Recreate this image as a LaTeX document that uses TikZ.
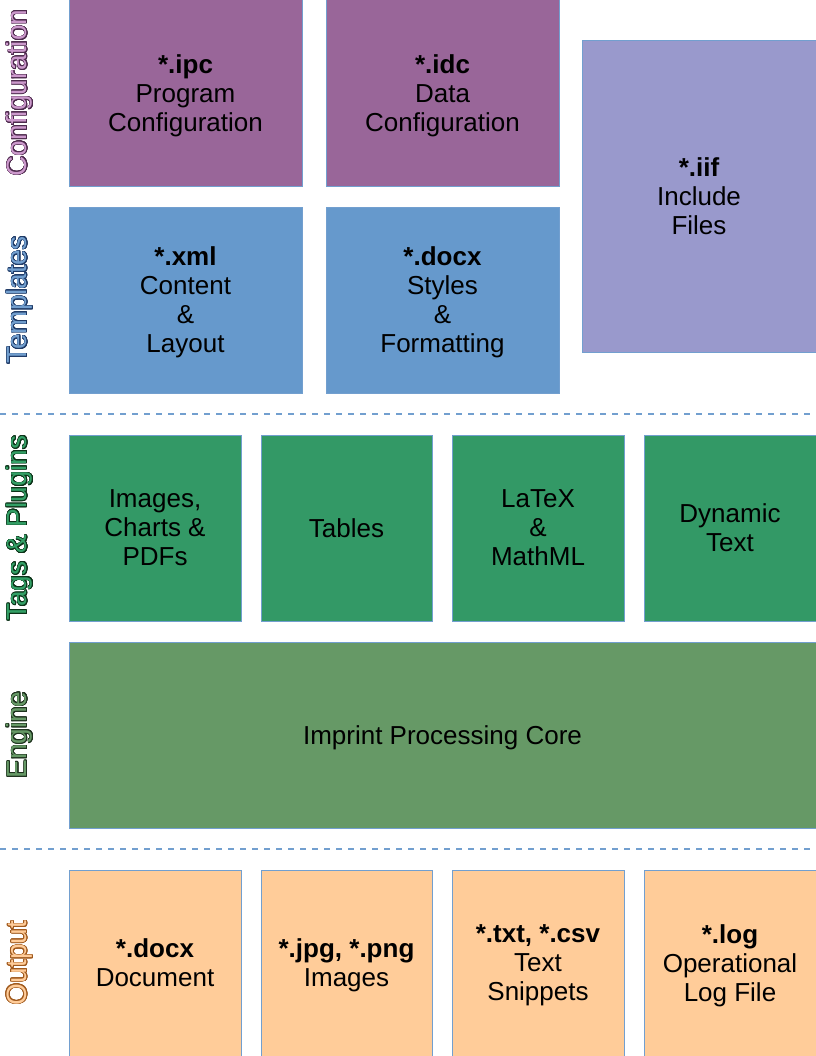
\documentclass[tikz,border=0pt]{standalone}
\usepackage{fontspec}
\setmainfont{Liberation Sans}
\usepackage{contour}
\contourlength{0.5pt}
\contournumber{24}
\definecolor{cfg}{HTML}{996699}
\definecolor{tpl}{HTML}{6699CC}
\definecolor{inc}{HTML}{9999CC}
\definecolor{tag}{HTML}{339966}
\definecolor{eng}{HTML}{669966}
\definecolor{out}{HTML}{FFCC99}
\definecolor{edge}{HTML}{729FCF}
\definecolor{cfgL}{HTML}{CC99CC}\definecolor{cfgD}{HTML}{4D2A4D}
\definecolor{tplL}{HTML}{729FCF}\definecolor{tplD}{HTML}{1F3A66}
\definecolor{tagL}{HTML}{33A066}\definecolor{tagD}{HTML}{0D3319}
\definecolor{engL}{HTML}{669966}\definecolor{engD}{HTML}{1F331F}
\definecolor{outL}{HTML}{FFCC99}\definecolor{outD}{HTML}{A05A1E}
\tikzset{
  box/.style={draw=edge, line width=0.75pt, align=center, inner sep=0pt, text depth=0pt,
    font=\fontsize{19.5}{21.75}\selectfont, text=black},
  side/.style={rotate=90, font=\fontsize{21}{24}\selectfont, inner sep=0pt},
  sep/.style={draw=edge, line width=1.5pt, dash pattern=on 4.5pt off 4.5pt}
}
\newcommand\sidetext[3]{\contour{#2}{\textcolor{#1}{#3}}}
\begin{document}
\begin{tikzpicture}[x=0.75pt,y=-0.75pt]
\useasboundingbox (0,0) rectangle (816,1056);
% configuration
\node[box,fill=cfg,minimum width=233*0.75pt,minimum height=186*0.75pt] (ipc) at (185.5,93) {\textbf{*.ipc}\\Program\\Configuration};
\node[box,fill=cfg,minimum width=233*0.75pt,minimum height=186*0.75pt] (idc) at (442.5,93) {\textbf{*.idc}\\Data\\Configuration};
\node[box,fill=inc,minimum width=234*0.75pt,minimum height=311*0.75pt] (iif) at (699,196.5) {\textbf{*.iif}\\Include\\Files};
% templates
\node[box,fill=tpl,minimum width=233*0.75pt,minimum height=186*0.75pt] (xml) at (185.5,300) {\textbf{*.xml}\\Content\\\&\\Layout};
\node[box,fill=tpl,minimum width=233*0.75pt,minimum height=186*0.75pt] (docx) at (442.5,300) {\textbf{*.docx}\\Styles\\\&\\Formatting};
% separators
\coordinate (s1a) at (0,414); \coordinate (s1b) at (816,414);
\coordinate (s2a) at (0,849); \coordinate (s2b) at (816,849);
\draw[sep] (s1a) -- (s1b);
\draw[sep] (s2a) -- (s2b);
% tags
\node[box,fill=tag,minimum width=172*0.75pt,minimum height=186*0.75pt] (img) at (155,528) {Images,\\Charts \&\\PDFs};
\node[box,fill=tag,minimum width=171*0.75pt,minimum height=186*0.75pt] (tab) at (346.5,528) {Tables};
\node[box,fill=tag,minimum width=172*0.75pt,minimum height=186*0.75pt] (latex) at (538,528) {LaTeX\\\&\\MathML};
\node[box,fill=tag,minimum width=172*0.75pt,minimum height=186*0.75pt] (dyn) at (730,528) {Dynamic\\Text};
% engine
\node[box,fill=eng,minimum width=747*0.75pt,minimum height=186*0.75pt] (core) at (442.5,735) {Imprint Processing Core};
% output
\node[box,fill=out,minimum width=172*0.75pt,minimum height=186*0.75pt] (odoc) at (155,963) {\textbf{*.docx}\\Document};
\node[box,fill=out,minimum width=171*0.75pt,minimum height=186*0.75pt] (oimg) at (346.5,963) {\textbf{*.jpg, *.png}\\Images};
\node[box,fill=out,minimum width=172*0.75pt,minimum height=186*0.75pt] (otxt) at (538,963) {\textbf{*.txt, *.csv}\\Text\\Snippets};
\node[box,fill=out,minimum width=172*0.75pt,minimum height=186*0.75pt] (olog) at (730,963) {\textbf{*.log}\\Operational\\Log File};
% side labels
\node[side] (lcfg) at (20,93) {\sidetext{cfgL}{cfgD}{Configuration}};
\node[side] (ltpl) at (20,300) {\sidetext{tplL}{tplD}{Templates}};
\node[side] (ltag) at (20,528) {\sidetext{tagL}{tagD}{Tags \& Plugins}};
\node[side] (leng) at (20,735) {\sidetext{engL}{engD}{Engine}};
\node[side] (lout) at (20,963) {\sidetext{outL}{outD}{Output}};
\end{tikzpicture}
\end{document}
